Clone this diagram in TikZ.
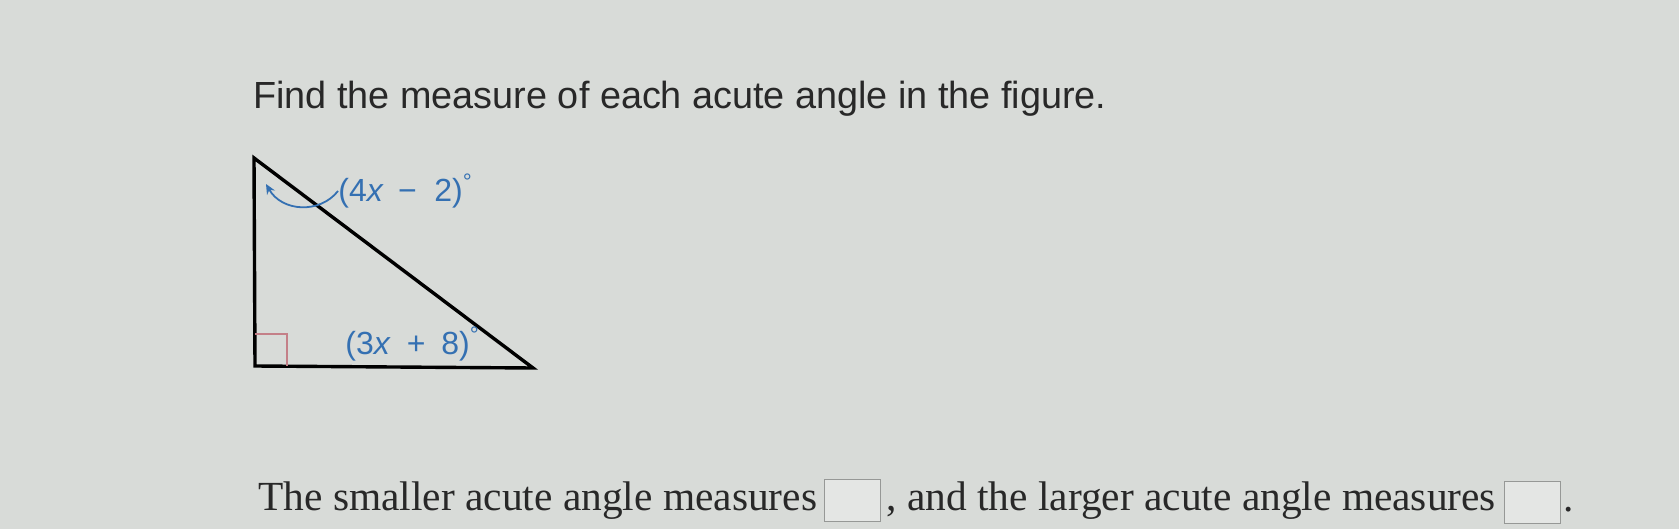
\documentclass[tikz,border=0pt]{standalone}
\usepackage{fontspec}
\setmainfont{Liberation Serif}
\newfontfamily\promptfont{Liberation Sans}
\usetikzlibrary{arrows.meta}
\definecolor{screengray}{RGB}{216,219,216}
\definecolor{inkgray}{RGB}{40,40,40}
\definecolor{labelblue}{RGB}{52,112,178}
\definecolor{markpink}{RGB}{196,128,136}
\definecolor{boxgray}{RGB}{150,152,150}
\begin{document}
\begin{tikzpicture}[x=0.5pt,y=-0.5pt,
        prompt/.style={anchor=base west,inner sep=0pt,text=inkgray,font=\promptfont\fontsize{18.9}{22}\selectfont},
        answer/.style={anchor=base west,inner sep=0pt,text=inkgray,font=\fontsize{20.7}{24}\selectfont},
        anglelabel/.style={anchor=west,inner sep=0pt,text=labelblue,font=\promptfont\fontsize{16}{18}\selectfont},
        blank/.style={draw=boxgray,line width=0.6pt,fill=white!30!screengray,minimum width=28pt,minimum height=21pt,inner sep=0pt,anchor=north west}]
        \fill[screengray] (0,0) rectangle (1679,529);
        \useasboundingbox (0,0) rectangle (1679,529);
        \node[prompt] (question) at (253,109) {Find the measure of each acute angle in the figure.};
        \coordinate (top) at (254,158);
        \coordinate (corner) at (255,366);
        \coordinate (tip) at (533,368);
        \draw[line width=1.7pt, line join=miter] (top) -- (corner) -- (tip) -- cycle;
        \draw[markpink, line width=0.8pt] (255,334) -- (287,334) -- (287,366);
        \node[anglelabel] (topangle) at (338,191) {(4\textit{x}\hspace{0.45em}−\hspace{0.55em}2)\textsuperscript{°}};
        \node[anglelabel] (bottomangle) at (345,344) {(3\textit{x}\hspace{0.5em}+\hspace{0.5em}8)\textsuperscript{°}};
        \draw[labelblue, line width=0.9pt, -{Stealth[length=5pt,width=4.5pt]}] (topangle.west) .. controls (320,214) and (282,212) .. (266,184);
        \node[answer] (smaller) at (258,510) {The smaller acute angle measures};
        \node[blank] (boxsmall) at (824,479) {};
        \node[answer] (larger) at (886,510) {, and the larger acute angle measures};
        \node[blank] (boxlarge) at (1504,481) {};
        \node[answer] (stop) at (1563,511) {.};
\end{tikzpicture}
\end{document}
